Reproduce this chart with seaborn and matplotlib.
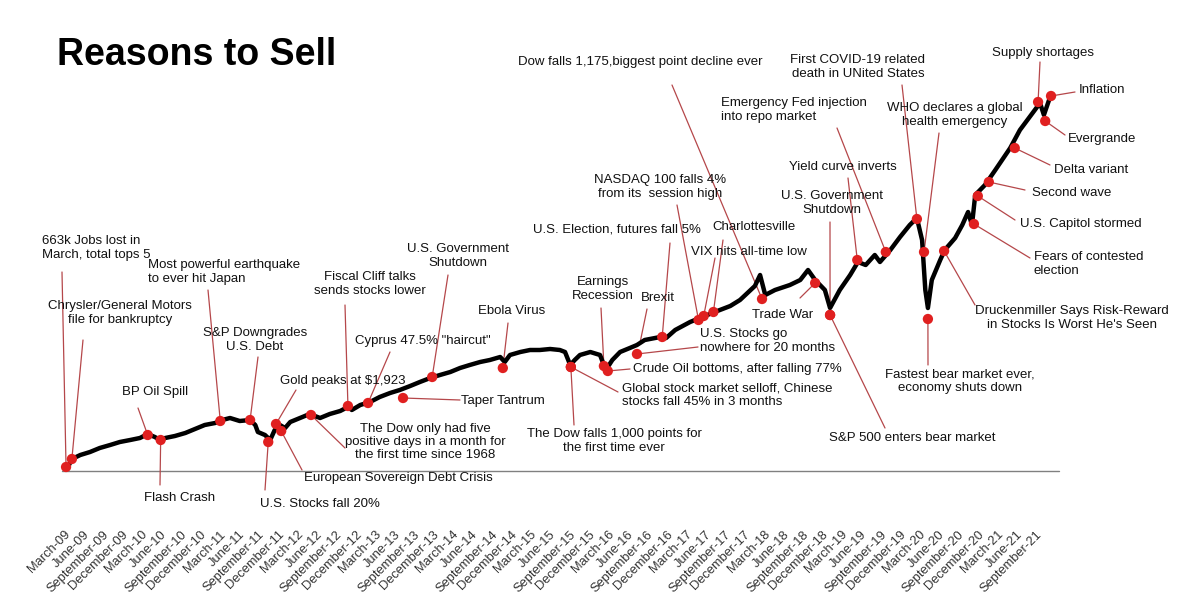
import matplotlib
matplotlib.use("Agg")
import matplotlib.pyplot as plt
import seaborn as sns
import pandas as pd

# ---- data (index level, month index from March 2009) ----
months = [0, 0.6, 1.9, 3.4, 4.9, 6.5, 8.0, 9.6, 11.1, 12.3, 13.4, 14.2, 15.0, 16.5, 18.1, 19.6,
          21.1, 22.7, 23.8, 25.0, 26.5, 28.1, 28.9, 29.3, 30.4, 31.2, 31.9, 32.7, 33.5, 34.3, 35.8,
          37.3, 38.9, 40.4, 42.0, 43.2, 43.8, 45.1, 46.6, 48.1, 49.7, 51.2, 52.8, 54.3, 55.9, 57.4,
          59.0, 60.5, 62.0, 63.6, 65.1, 66.7, 67.4, 68.2, 69.8, 71.3, 72.8, 74.4, 75.9, 76.7, 77.5,
          78.2, 79.0, 80.6, 82.1, 83.0, 84.0, 85.2, 86.7, 87.8, 89.0, 91.4, 92.3, 93.7, 96.0, 97.5,
          99.8, 102.2, 103.7, 106.0, 106.8, 107.6, 109.1, 111.4, 113.0, 114.2, 115.3, 116.8, 117.6,
          119.1, 120.7, 121.9, 123.1, 124.5, 125.3, 126.9, 128.4, 129.9, 131.0, 131.8, 132.3, 132.7,
          133.3, 134.6, 135.3, 136.9, 138.0, 138.9, 139.5, 140.0, 141.5, 143.1, 145.4, 146.9, 149.2,
          150.0, 150.6, 151.5, 152.0]
levels = [640, 720, 760, 790, 830, 860, 890, 910, 930, 970, 940, 910, 930, 950, 980, 1020,
          1060, 1080, 1110, 1130, 1100, 1110, 1060, 990, 960, 910, 1010, 1060, 1030, 1090, 1130,
          1170, 1130, 1170, 1200, 1240, 1210, 1260, 1290, 1340, 1380, 1410, 1450, 1490, 1530, 1560,
          1590, 1630, 1660, 1690, 1710, 1740, 1690, 1760, 1790, 1810, 1810, 1820, 1810, 1790, 1660,
          1710, 1760, 1790, 1760, 1610, 1710, 1790, 1830, 1860, 1910, 1940, 1930, 2010, 2090, 2130,
          2190, 2250, 2310, 2450, 2560, 2360, 2410, 2460, 2510, 2610, 2510, 2410, 2230,
          2410, 2560, 2690, 2660, 2760, 2690, 2810, 2940, 3060, 3130, 2910, 2410, 2230,
          2510, 2710, 2810, 2930, 3060, 3190, 3060, 3360, 3460, 3610, 3830, 4010, 4210,
          4280, 4160, 4330, 4360]

tick_labels = []
for yr in range(9, 22):
    for mname in ["March", "June", "September", "December"]:
        if yr == 21 and mname == "December":
            continue
        tick_labels.append(f"{mname}-{yr:02d}")

# events
ev_labels = [
    "663k Jobs lost in\nMarch, total tops 5", "Chrysler/General Motors\nfile for bankruptcy",
    "BP Oil Spill", "Flash Crash", "Most powerful earthquake\nto ever hit Japan",
    "S&P Downgrades\nU.S. Debt", "U.S. Stocks fall 20%", "European Sovereign Debt Crisis",
    "Gold peaks at $1,923", "Fiscal Cliff talks\nsends stocks lower", 'Cyprus 47.5% "haircut"',
    "The Dow only had five\npositive days in a month for\nthe first time since 1968",
    "Taper Tantrum", "U.S. Government\nShutdown", "Ebola Virus",
    "The Dow falls 1,000 points for\nthe first time ever",
    "Global stock market selloff, Chinese\nstocks fall 45% in 3 months",
    "Earnings\nRecession", "Crude Oil bottoms, after falling 77%", "Brexit",
    "U.S. Stocks go\nnowhere for 20 months", "U.S. Election, futures fall 5%",
    "NASDAQ 100 falls 4%\nfrom its  session high", "Charlottesville", "VIX hits all-time low",
    "Dow falls 1,175,biggest point decline ever", "Trade War", "U.S. Government\nShutdown",
    "S&P 500 enters bear market", "Yield curve inverts", "Emergency Fed injection\ninto repo market",
    "First COVID-19 related\ndeath in UNited States", "WHO declares a global\nhealth emergency",
    "Fastest bear market ever,\neconomy shuts down",
    "Druckenmiller Says Risk-Reward\nin Stocks Is Worst He's Seen",
    "Fears of contested\nelection", "U.S. Capitol stormed", "Second wave", "Delta variant",
    "Evergrande", "Supply shortages", "Inflation"]
ev_month = [-0.3, 0.6, 12.3, 14.3, 23.5, 28.1, 30.9, 32.9, 32.1, 43.2, 46.3, 37.5, 51.7, 56.2, 67.1,
            77.6, 77.6, 82.7, 83.3, 88.3, 87.8, 91.7, 97.3, 99.6, 98.1, 107.1, 115.3, 117.6, 117.6,
            121.8, 126.2, 131.0, 132.1, 132.7, 135.2, 139.8, 140.4, 142.1, 146.1, 150.8, 149.7, 151.7]
ev_level = [640, 720, 960, 910, 1100, 1110, 890, 1000, 1070, 1250, 1280, 1160, 1330, 1540, 1630,
            1640, 1640, 1650, 1600, 1890, 1770, 1940, 2110, 2190, 2150, 2320, 2480, 2160, 2160,
            2710, 2790, 3120, 2790, 2120, 2800, 3070, 3350, 3490, 3830, 4100, 4290, 4350]
ev_dot = [True] * len(ev_labels)
ev_dot[19] = False
txt_x = [42, 120, 155, 180, 148, 255, 320, 398, 343, 370, 423, 425, 503, 458, 512,
         614, 622, 603, 633, 658, 700, 617, 660, 754, 749, 640, 783, 832, 912, 843, 721,
         858, 955, 960, 1072, 1034, 1020, 1032, 1054, 1068, 1043, 1079]
txt_y = [248, 313, 392, 498, 272, 340, 504, 478, 381, 284, 341, 442, 401, 256, 311,
         441, 395, 289, 369, 298, 341, 230, 187, 227, 252, 62, 315, 203, 438, 167, 110,
         67, 115, 381, 318, 264, 224, 193, 170, 139, 53, 90]
txt_ha = ["left", "center", "center", "center", "left", "center", "center", "center", "center",
          "center", "center", "center", "center", "center", "center", "center", "left", "center",
          "left", "center", "left", "center", "center", "center", "center", "center", "center",
          "center", "center", "center", "left", "center", "center", "center", "center", "left",
          "left", "left", "left", "left", "center", "left"]
line_x = [62, 83, 138, 160, 208, 258, 265, 302, 296, 345, 390, 345, 460, 448, 508,
          574, 618, 601, 630, 647, 698, 670, 677, 723, 715, 672, 800, 830, 885, 848, 837,
          902, 939, 928, 975, 1030, 1015, 1025, 1050, 1065, 1040, 1075]
line_y = [272, 340, 408, 485, 290, 357, 490, 470, 390, 305, 352, 448, 400, 275, 323,
          425, 392, 308, 369, 309, 347, 243, 205, 240, 258, 85, 298, 222, 428, 178, 128,
          85, 133, 365, 305, 258, 220, 190, 165, 135, 62, 92]

# ---- figure ----
sns.set_style("white")
plt.rcParams["font.family"] = ["Liberation Sans", "DejaVu Sans"]
W, H = 1200, 599
fig = plt.figure(figsize=(12, 5.99), dpi=100)
ax = fig.add_axes([40 / W, 119 / H, 1040 / W, 460 / H])
ax.set_xlim(-4.32, 156.17)
ax.set_ylim(510, 5110)

ax.plot([-1, 153], [600, 600], color="#808080", lw=1.0, zorder=1)
df = pd.DataFrame({"month": months, "level": levels})
sns.lineplot(data=df, x="month", y="level", color="black", lw=3.2, ax=ax, zorder=3)

LC = "#b5474a"
for i, lab in enumerate(ev_labels):
    ax.annotate("", xy=(ev_month[i], ev_level[i]), xycoords="data",
                xytext=(line_x[i], H - line_y[i]), textcoords="figure pixels",
                arrowprops=dict(arrowstyle="-", color=LC, lw=0.9, shrinkA=0, shrinkB=0),
                zorder=2)
    fig.text(txt_x[i] / W, 1 - txt_y[i] / H, lab, ha=txt_ha[i], va="center",
             fontsize=9.5, color="#111111", linespacing=1.15)

dots = pd.DataFrame({"m": [m for m, d in zip(ev_month, ev_dot) if d],
                     "l": [l for l, d in zip(ev_level, ev_dot) if d]})
sns.scatterplot(data=dots, x="m", y="l", color="#e02020", s=55, edgecolor="none", ax=ax, zorder=4)

ax.set_xticks(list(range(0, 151, 3)))
ax.set_xticklabels(tick_labels, rotation=45, ha="right", va="center", rotation_mode="anchor",
                   fontsize=9.3, color="#333333")
ax.tick_params(axis="x", length=0, pad=38)
ax.set_yticks([])
ax.set_xlabel("")
ax.set_ylabel("")
for s in ax.spines.values():
    s.set_visible(False)

fig.text(57 / W, 1 - 55 / H, "Reasons to Sell", fontsize=27, fontweight="bold",
         ha="left", va="center", color="black")

fig.savefig("out.png", dpi=100, facecolor="white")
